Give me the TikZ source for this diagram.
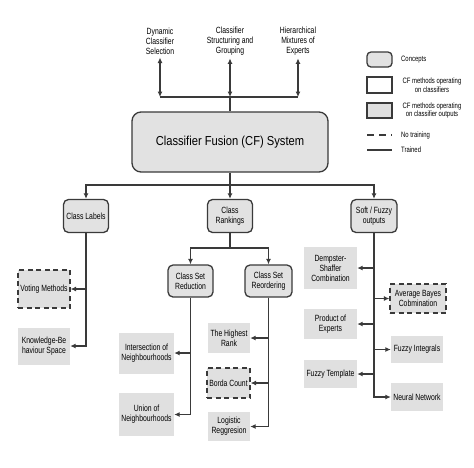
\documentclass[tikz,border=0pt]{standalone}
\usepackage{fontspec}
\setmainfont{Liberation Sans}[FakeStretch=0.76]
\newfontfamily\titlefont{Liberation Sans}[FakeStretch=0.86]
\usetikzlibrary{arrows.meta}
\definecolor{boxgray}{HTML}{E2E2E2}
\definecolor{methgray}{HTML}{E0E0E0}
\definecolor{edgegray}{HTML}{3A3A3A}

\begin{document}
\begin{tikzpicture}[x=1pt, y=-1pt,
        concept/.style={draw=edgegray, line width=1.3pt, rounded corners=5pt, fill=boxgray,
            align=center, inner sep=1pt, font=\fontsize{9}{10}\selectfont},
        method/.style={fill=methgray, align=center, inner sep=1pt, font=\fontsize{9}{10}\selectfont},
        untrained/.style={method, draw=edgegray, line width=1.2pt, dash pattern=on 5pt off 3.5pt},
        toplabel/.style={align=center, inner sep=3pt, font=\fontsize{9}{10}\selectfont},
        legtext/.style={align=center, inner sep=1pt, font=\fontsize{7.8}{8.5}\selectfont},
        link/.style={line width=1.2pt, draw=edgegray},
        arrow/.style={link, -{Latex[length=5.5pt, width=5pt]}},
        biarrow/.style={link, {Latex[length=5.5pt, width=5pt]}-{Latex[length=5.5pt, width=5pt]}}]
        \useasboundingbox (0, 0) rectangle (474, 467);
        \fill[white] (0, 0) rectangle (474, 467);

        % top
        \node[toplabel] (dyn) at (160, 41) {Dynamic\\Classifier\\Selection};
        \node[toplabel] (grp) at (230, 41) {Classifier\\Structuring and\\Grouping};
        \node[toplabel] (hme) at (298, 41) {Hierarchical\\Mixtures of\\Experts};
        \coordinate (b1) at (160, 97);
        \coordinate (b2) at (230, 97);
        \coordinate (b3) at (298, 97);
        \draw[link] (b1) -- (b3);
        \draw[biarrow] (b1) -- (dyn);
        \draw[biarrow] (b2) -- (grp);
        \draw[biarrow] (b3) -- (hme);

        \node[concept, rounded corners=9pt, minimum width=196pt, minimum height=60pt,
            font=\titlefont\fontsize{13}{15}\selectfont] (sys) at (230, 142) {Classifier Fusion (CF) System};
        \draw[link] (b2) -- (sys);

        \coordinate (hub) at (230, 185);
        \draw[link] (sys) -- (hub);
        \node[concept, minimum width=45pt, minimum height=33pt] (labels) at (86, 216) {Class Labels};
        \node[concept, minimum width=45pt, minimum height=33pt] (ranks) at (230, 216) {Class\\Rankings};
        \node[concept, minimum width=46pt, minimum height=33pt] (soft) at (374, 216) {Soft / Fuzzy\\outputs};
        \draw[arrow] (hub) -| (labels);
        \draw[arrow] (hub) -- (ranks);
        \draw[arrow] (hub) -| (soft);

        % class labels
        \node[untrained, minimum width=52pt, minimum height=38pt] (vote) at (44, 289) {Voting Methods};
        \node[method, minimum width=52pt, minimum height=37pt] (kbs) at (44, 346) {Knowledge-Be\\haviour Space};
        \draw[arrow] (labels) |- (vote);
        \draw[arrow] (labels) |- (kbs);

        % class rankings
        \coordinate (rk) at (230, 248);
        \draw[link] (ranks) -- (rk);
        \node[concept, minimum width=45pt, minimum height=32pt] (red) at (190.5, 281) {Class Set\\Reduction};
        \node[concept, minimum width=47pt, minimum height=32pt] (reo) at (268.5, 281) {Class Set\\Reordering};
        \draw[arrow] (rk) -| (red);
        \draw[arrow] (rk) -| (reo);

        \node[method, minimum width=55pt, minimum height=41pt] (inter) at (146.5, 353) {Intersection of\\Neighbourhoods};
        \node[method, minimum width=55pt, minimum height=43pt] (union) at (146.5, 414.5) {Union of\\Neighbourhoods};
        \draw[arrow] (red) |- (inter);
        \draw[arrow] (red) |- (union);

        \node[method, minimum width=42pt, minimum height=30pt] (high) at (229, 338) {The Highest\\Rank};
        \node[untrained, minimum width=43pt, minimum height=30pt] (borda) at (228.5, 383) {Borda Count};
        \node[method, minimum width=42pt, minimum height=29pt] (logit) at (229, 426.5) {Logistic\\Reggresion};
        \draw[arrow] (reo) |- (high);
        \draw[arrow] (reo) |- (borda);
        \draw[arrow] (reo) |- (logit);

        % soft / fuzzy outputs
        \node[method, minimum width=53pt, minimum height=42pt] (dst) at (330.5, 268) {Dempster-\\Shaffer\\Combination};
        \node[untrained, minimum width=56pt, minimum height=29pt] (abc) at (418, 298.5) {Average Bayes\\Cobmination};
        \node[method, minimum width=53pt, minimum height=30pt] (poe) at (330.5, 324) {Product of\\Experts};
        \node[method, minimum width=52pt, minimum height=27pt] (fint) at (417, 349.5) {Fuzzy Integrals};
        \node[method, minimum width=53pt, minimum height=28pt] (ftp) at (330.5, 374) {Fuzzy Template};
        \node[method, minimum width=52pt, minimum height=28pt] (nn) at (417, 397) {Neural Network};
        \draw[arrow] (soft) |- (dst);
        \draw[arrow] (soft) |- (abc);
        \draw[arrow] (soft) |- (poe);
        \draw[arrow] (soft) |- (fint);
        \draw[arrow] (soft) |- (ftp);
        \draw[arrow] (soft) |- (nn);

        % legend
        \node[concept, rounded corners=4pt, minimum width=25pt, minimum height=15pt] (lgc) at (379.5, 59.5) {};
        \node[legtext, anchor=west] (lgct) at (400, 59.5) {Concepts};
        \node[draw=edgegray, line width=1.1pt, fill=white, minimum width=25pt, minimum height=16pt] (lgw) at (379.5, 85) {};
        \node[legtext] (lgwt) at (432, 85) {CF methods operating\\on classifiers};
        \node[draw=edgegray, line width=1.1pt, fill=methgray, minimum width=25pt, minimum height=15pt] (lgg) at (379.5, 110.5) {};
        \node[legtext] (lggt) at (432, 110.5) {CF methods operating\\on classifier outputs};
        \coordinate (ld1) at (367, 135);
        \coordinate (ld2) at (392, 135);
        \draw[link, dash pattern=on 7pt off 5pt] (ld1) -- (ld2);
        \node[legtext, anchor=west] (ldt) at (400, 135) {No training};
        \coordinate (ls1) at (367, 150);
        \coordinate (ls2) at (392, 150);
        \draw[link] (ls1) -- (ls2);
        \node[legtext, anchor=west] (lst) at (400, 150) {Trained};
\end{tikzpicture}
\end{document}
